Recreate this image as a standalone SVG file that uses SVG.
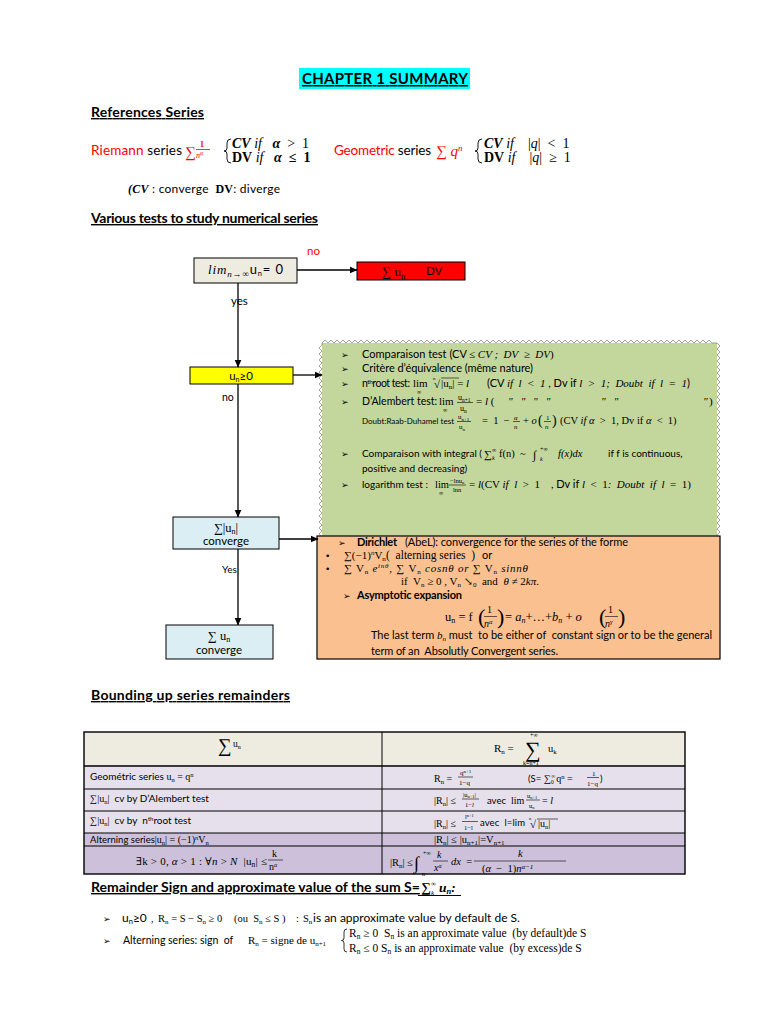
<svg xmlns="http://www.w3.org/2000/svg" width="768" height="1024" viewBox="0 0 768 1024">
<defs>
<marker id="arr" markerWidth="8" markerHeight="8" refX="7.5" refY="4" orient="auto" markerUnits="userSpaceOnUse">
<path d="M0,0.5 L8,4 L0,7.5 Z" fill="#000"/>
</marker>
<style>
text{font-family:Lato,"Liberation Sans",sans-serif;fill:#000}
.h{font-weight:bold;text-decoration:underline}
.m{font-family:"Liberation Serif","DejaVu Serif",serif}
.i{font-style:italic}
.b{font-weight:bold}
.r{fill:#ff0000}
.bul{font-family:"DejaVu Sans",sans-serif;font-size:9px}
.dot{font-family:"DejaVu Sans",sans-serif;font-size:9px}
.ln{stroke:#000;stroke-width:1.3;fill:none}
.fr{stroke:#000;stroke-width:0.6}
.cell{stroke:#000;stroke-width:1}
.node{stroke:#000;stroke-width:1}
</style>
</defs>
<rect width="768" height="1024" fill="#fff"/>

<g id="title">
<rect x="299" y="68" width="171" height="21" fill="#00ffff"/>
<text x="302" y="84" class="b" font-size="15" text-decoration="underline" textLength="166">CHAPTER 1 SUMMARY</text>
</g>

<g id="references">
<text x="91" y="117" class="h" font-size="14" textLength="113">References Series</text>
<text x="91" y="155" font-size="13.5" textLength="91"><tspan class="r">Riemann</tspan> series</text>
<text x="185" y="157" class="m r" font-size="15">∑</text>
<text x="200" y="147" class="m r b" font-size="8">1</text>
<line x1="196" y1="149.5" x2="210" y2="149.5" stroke="#ff0000" stroke-width="0.8"/>
<text x="196" y="158" class="m r i" font-size="8">n<tspan font-size="6" dy="-3">α</tspan></text>
<path d="M231,139 Q227,139 227,143 L227,148 Q227,151 224,151 Q227,151 227,154 L227,159 Q227,163 231,163" stroke="#000" stroke-width="0.9" fill="none"/>
<text x="232" y="148" class="m" font-size="14"><tspan class="b i">CV</tspan><tspan class="i"> if&#160;&#160; </tspan><tspan class="b i">α</tspan> &#160;&gt;&#160; 1</text>
<text x="232" y="162" class="m" font-size="14"><tspan class="b">DV</tspan><tspan class="i"> if&#160;&#160; </tspan><tspan class="b i">α</tspan><tspan class="b"> &#160;≤&#160; 1</tspan></text>
<text x="334" y="155" font-size="13.5" textLength="97"><tspan class="r">Geometric</tspan> series</text>
<text x="436" y="156" class="m r" font-size="15">∑ <tspan class="i">q</tspan><tspan font-size="9" dy="-5" class="i">n</tspan></text>
<path d="M482,139 Q478,139 478,143 L478,148 Q478,151 475,151 Q478,151 478,154 L478,159 Q478,163 482,163" stroke="#000" stroke-width="0.9" fill="none"/>
<text x="484" y="148" class="m" font-size="14"><tspan class="b i">CV</tspan><tspan class="i"> if</tspan>&#160;&#160;&#160; |<tspan class="i">q</tspan>| &#160;&lt;&#160; 1</text>
<text x="484" y="162" class="m" font-size="14"><tspan class="b">DV</tspan><tspan class="i"> if</tspan>&#160;&#160;&#160; |<tspan class="i">q</tspan>| &#160;≥&#160; 1</text>
<text x="128" y="193" font-size="12" textLength="152"><tspan class="m b i">(CV</tspan> : converge&#160; <tspan class="m b">DV</tspan>: diverge</text>
</g>

<text x="91" y="223" class="h" font-size="14" textLength="227">Various tests to study numerical series</text>

<g id="n-limit">
<rect x="194" y="258" width="103" height="25" fill="#eeece1" class="node"/>
<text x="208" y="274" font-size="13" textLength="75"><tspan class="m i">lim</tspan><tspan class="m i" font-size="9" dy="3">n→∞</tspan><tspan dy="-3">u</tspan><tspan font-size="7.5" dy="2">n</tspan><tspan dy="-2">= 0</tspan></text>
</g>

<g id="n-dv">
<rect x="357" y="262" width="108" height="18" fill="#ff0000" class="node"/>
<text x="382" y="276" class="m" font-size="13">∑ u<tspan font-size="9" dy="3">n</tspan></text>
<text x="426" y="275" font-size="11.5">DV</text>
</g>

<g id="n-positive">
<rect x="190" y="367" width="103" height="17" fill="#ffff00" class="node"/>
<text x="241" y="380" text-anchor="middle" font-size="11.5">u<tspan font-size="7" dy="2">n</tspan><tspan dy="-2">≥0</tspan></text>
</g>

<g id="n-abs">
<rect x="173" y="517" width="106" height="32" fill="#daeef3" class="node"/>
<text x="226" y="532" text-anchor="middle" class="m" font-size="12.5">∑|u<tspan font-size="8" dy="2">n</tspan><tspan dy="-2">|</tspan></text>
<text x="226" y="545" text-anchor="middle" font-size="11.5">converge</text>
</g>

<g id="n-conv">
<rect x="166" y="625" width="107" height="34" fill="#daeef3" class="node"/>
<text x="219" y="640" text-anchor="middle" class="m" font-size="12.5">∑ u<tspan font-size="8" dy="2">n</tspan></text>
<text x="219" y="654" text-anchor="middle" font-size="11.5">converge</text>
</g>

<g id="green-tests">
<rect x="322" y="343" width="395" height="194" fill="#c3d69b"/>
<path d="M322,343 l3-3l3 3l3-3l3 3l3-3l3 3l3-3l3 3l3-3l3 3 l3-3l3 3l3-3l3 3l3-3l3 3l3-3l3 3l3-3l3 3 l3-3l3 3l3-3l3 3l3-3l3 3l3-3l3 3l3-3l3 3 l3-3l3 3l3-3l3 3l3-3l3 3l3-3l3 3l3-3l3 3 l3-3l3 3l3-3l3 3l3-3l3 3l3-3l3 3l3-3l3 3 l3-3l3 3l3-3l3 3l3-3l3 3l3-3l3 3l3-3l3 3 l3-3l3 3l3-3l3 3l3-3l3 3l3-3l3 3l3-3l3 3 l3-3l3 3l3-3l3 3l3-3l3 3l3-3l3 3l3-3l3 3 l3-3l3 3l3-3l3 3l3-3l3 3l3-3l3 3l3-3l3 3 l3-3l3 3l3-3l3 3l3-3l3 3l3-3l3 3l3-3l3 3 l3-3l3 3l3-3l3 3l3-3l3 3l3-3l3 3l3-3l3 3 l3-3l3 3l3-3l3 3l3-3l3 3l3-3l3 3l3-3l3 3 l3-3l3 3l3-3l3 3l3-3l3 3l3-3l3 3l3-3l3 3 L717,343 l3 3l-3 3l3 3l-3 3l3 3l-3 3l3 3l-3 3l3 3l-3 3 l3 3l-3 3l3 3l-3 3l3 3l-3 3l3 3l-3 3l3 3l-3 3 l3 3l-3 3l3 3l-3 3l3 3l-3 3l3 3l-3 3l3 3l-3 3 l3 3l-3 3l3 3l-3 3l3 3l-3 3l3 3l-3 3l3 3l-3 3 l3 3l-3 3l3 3l-3 3l3 3l-3 3l3 3l-3 3l3 3l-3 3 l3 3l-3 3l3 3l-3 3l3 3l-3 3l3 3l-3 3l3 3l-3 3 l3 3l-3 3l3 3l-3 3 L717,537 M322,537 l-3-3l3-3l-3-3l3-3l-3-3l3-3l-3-3l3-3l-3-3l3-3 l-3-3l3-3l-3-3l3-3l-3-3l3-3l-3-3l3-3l-3-3l3-3 l-3-3l3-3l-3-3l3-3l-3-3l3-3l-3-3l3-3l-3-3l3-3 l-3-3l3-3l-3-3l3-3l-3-3l3-3l-3-3l3-3l-3-3l3-3 l-3-3l3-3l-3-3l3-3l-3-3l3-3l-3-3l3-3l-3-3l3-3 l-3-3l3-3l-3-3l3-3l-3-3l3-3l-3-3l3-3l-3-3l3-3 l-3-3l3-3l-3-3l3-3 L322,343" stroke="#8c8c8c" stroke-width="0.8" fill="none"/>

<text x="341" y="358" class="bul">➢</text>
<text x="362" y="358" font-size="11">Comparaison test (CV</text>
<text x="469" y="358" class="m" font-size="11">≤ <tspan class="i">CV ;&#160; DV&#160; ≥&#160; DV</tspan>)</text>
<text x="341" y="372" class="bul">➢</text>
<text x="362" y="372" font-size="11" textLength="171">Critère d’équivalence (même nature)</text>
<text x="341" y="387" class="bul">➢</text>
<text x="362" y="387" font-size="10.5" textLength="48">n<tspan font-size="6.5" dy="-3.5">th</tspan><tspan dy="3.5">root test:</tspan></text>
<text x="413" y="387" class="m" font-size="11">lim</text>
<text x="417" y="394" class="m" font-size="6">∞</text>
<text x="433" y="380" class="m" font-size="5">n</text>
<text x="434" y="388" class="m" font-size="11">√</text>
<line x1="441" y1="378" x2="459" y2="378" class="fr"/>
<text x="441" y="387" class="m" font-size="11">|u<tspan font-size="7" dy="2">n</tspan><tspan dy="-2">| = </tspan><tspan class="i">l</tspan></text>
<text x="487" y="387" font-size="11">(CV <tspan class="m i">if&#160; l &#160;&lt;&#160; 1 </tspan>, Dv if <tspan class="m i">l &#160;&gt;&#160; 1;&#160; Doubt&#160; if&#160; l &#160;=&#160; 1</tspan>)</text>

<text x="341" y="405" class="bul">➢</text>
<text x="362" y="405" font-size="10.5">D’Alembert test:</text>
<text x="439" y="405" class="m" font-size="11">lim</text>
<text x="443" y="412" class="m" font-size="6">∞</text>
<text x="458" y="400" class="m" font-size="8">u<tspan font-size="5.5" dy="1.5">n+1</tspan></text>
<line x1="457" y1="402.5" x2="473" y2="402.5" class="fr"/>
<text x="460" y="411" class="m" font-size="8">u<tspan font-size="5.5" dy="1.5">n</tspan></text>
<text x="476" y="405" class="m" font-size="11">= <tspan class="i">l</tspan> (</text>
<text x="508" y="405" class="m i" font-size="11">"&#160;&#160; "</text>
<text x="533" y="405" class="m i" font-size="11">"&#160;&#160; "</text>
<text x="601" y="405" class="m i" font-size="11">"&#160;&#160; "</text>
<text x="703" y="405" class="m i" font-size="11">"</text>
<text x="709" y="405" class="m" font-size="11">)</text>

<text x="362" y="424" font-size="8" textLength="92">Doubt:Raab-Duhamel test</text>
<text x="458" y="419" class="m" font-size="7">u<tspan font-size="5" dy="1.5">n+1</tspan></text>
<line x1="457" y1="421.5" x2="471" y2="421.5" class="fr"/>
<text x="459" y="429" class="m" font-size="7">u<tspan font-size="5" dy="1.5">n</tspan></text>
<text x="482" y="424" class="m" font-size="10.5">=&#160; 1&#160; −</text>
<text x="514" y="419.5" class="m i" font-size="7">α</text>
<line x1="513" y1="421.5" x2="520" y2="421.5" class="fr"/>
<text x="514" y="429" class="m i" font-size="7">n</text>
<text x="523" y="424" class="m" font-size="10.5">+ <tspan class="i">o</tspan></text>
<text x="538" y="425" class="m" font-size="14">(</text>
<text x="546" y="419.5" class="m" font-size="7">1</text>
<line x1="544" y1="421.5" x2="551" y2="421.5" class="fr"/>
<text x="545" y="429" class="m i" font-size="7">n</text>
<text x="552" y="425" class="m" font-size="14">)</text>
<text x="560" y="424" class="m" font-size="10.5">(CV <tspan class="i">if α</tspan> &#160;&gt;&#160; 1, Dv if <tspan class="i">α</tspan> &#160;&lt;&#160; 1)</text>

<text x="341" y="457" class="bul">➢</text>
<text x="362" y="457" font-size="10">Comparaison with integral (</text>
<text x="484" y="458" class="m" font-size="11">∑</text>
<text x="492" y="452" class="m" font-size="6">∞</text>
<text x="492" y="460" class="m i" font-size="6">k</text>
<text x="499" y="457" class="m" font-size="10.5">f(n)&#160; ~</text>
<text x="533" y="459" class="m" font-size="12">∫</text>
<text x="540" y="451" class="m" font-size="6">+∞</text>
<text x="540" y="461" class="m i" font-size="6">k</text>
<text x="558" y="457" class="m i" font-size="10.5">f(x)dx</text>
<text x="608" y="457" font-size="10">if f is continuous,</text>
<text x="362" y="472" font-size="10">positive and decreasing)</text>
<text x="341" y="488" class="bul">➢</text>
<text x="362" y="488" font-size="10">logarithm test :</text>
<text x="435" y="488" class="m" font-size="10.5">lim</text>
<text x="439" y="495" class="m" font-size="6">∞</text>
<text x="450" y="483" class="m" font-size="6.5">−lnu<tspan font-size="4.5" dy="1">n</tspan></text>
<line x1="449" y1="485" x2="466" y2="485" class="fr"/>
<text x="453" y="492" class="m" font-size="6.5">lnn</text>
<text x="469" y="488" class="m" font-size="11">= <tspan class="i">l</tspan>(CV <tspan class="i">if&#160; l</tspan> &#160;&gt;&#160; 1&#160;&#160;&#160; <tspan font-family="Lato,sans-serif">, Dv if </tspan><tspan class="i">l</tspan> &#160;&lt;&#160; 1<tspan class="i">:&#160; Doubt&#160; if&#160; l</tspan> &#160;=&#160; 1)</text>
</g>

<g id="orange-tests">
<rect x="317" y="536" width="403" height="123" fill="#fac090" stroke="#000" stroke-width="1.2"/>
<text x="338" y="546" class="bul">➢</text>
<text x="357" y="546" font-size="11" class="b" textLength="40">Dirichlet</text>
<text x="405" y="546" font-size="11" textLength="223">(AbeL): convergence for the series of the forme</text>
<text x="325" y="559" class="dot">•</text>
<text x="344" y="559" class="m" font-size="11">∑(−1)<tspan font-size="7" dy="-4" class="i">n</tspan><tspan dy="4">V</tspan><tspan font-size="7" dy="2">n</tspan></text>
<text x="386" y="559" class="m" font-size="11.5">(&#160; alterning series&#160; )</text>
<text x="482" y="559" font-size="11">or</text>
<text x="325" y="572" class="dot">•</text>
<text x="344" y="572" class="m" font-size="11" textLength="184">∑ V<tspan font-size="7" dy="2">n</tspan><tspan dy="-2" class="i"> e</tspan><tspan font-size="7" dy="-4" class="i">inθ</tspan><tspan dy="4">, ∑ V</tspan><tspan font-size="7" dy="2">n</tspan><tspan dy="-2" class="i"> cosnθ or </tspan>∑ V<tspan font-size="7" dy="2">n</tspan><tspan dy="-2" class="i"> sinnθ</tspan></text>
<text x="401" y="585" class="m" font-size="11">if&#160; V<tspan font-size="7" dy="2">n</tspan><tspan dy="-2"> ≥ 0 , V</tspan><tspan font-size="7" dy="2">n</tspan><tspan dy="-2"> ↘</tspan><tspan font-size="7" dy="2">0</tspan><tspan dy="-2">&#160; and&#160; </tspan><tspan class="i">θ</tspan> ≠ 2<tspan class="i">kπ</tspan>.</text>
<text x="343" y="599" class="bul">➢</text>
<text x="357" y="599" font-size="11" class="b" textLength="105">Asymptotic expansion</text>
<text x="445" y="621" class="m" font-size="12.5">u<tspan font-size="8" dy="2">n</tspan><tspan dy="-2"> = f</tspan></text>
<text x="478" y="624" class="m" font-size="22">(</text>
<text x="487" y="613" class="m" font-size="10">1</text>
<line x1="484" y1="616.5" x2="497" y2="616.5" class="fr"/>
<text x="484" y="627" class="m i" font-size="10">n<tspan font-size="6.5" dy="-3">α</tspan></text>
<text x="497" y="624" class="m" font-size="22">)</text>
<text x="505" y="621" class="m" font-size="12.5">= <tspan class="i">a</tspan><tspan font-size="8" dy="2" class="i">n</tspan><tspan dy="-2">+…+</tspan><tspan class="i">b</tspan><tspan font-size="8" dy="2" class="i">n</tspan><tspan dy="-2"> + </tspan><tspan class="i">o</tspan></text>
<text x="599" y="624" class="m" font-size="22">(</text>
<text x="608" y="613" class="m" font-size="10">1</text>
<line x1="605" y1="616.5" x2="618" y2="616.5" class="fr"/>
<text x="605" y="627" class="m i" font-size="10">n<tspan font-size="6.5" dy="-3">γ</tspan></text>
<text x="618" y="624" class="m" font-size="22">)</text>
<text x="371" y="639" font-size="11" textLength="341">The last term <tspan class="m i">b</tspan><tspan class="m i" font-size="7" dy="2">n</tspan><tspan dy="-2"> must&#160; to be either of&#160; constant sign or to be the general</tspan></text>
<text x="371" y="655" font-size="11" textLength="187">term of an&#160; Absolutly Convergent series.</text>
</g>

<g id="connectors">
<line x1="297" y1="270" x2="357" y2="270" class="ln" marker-end="url(#arr)"/>
<text x="307" y="255" font-size="11.5" class="r">no</text>
<line x1="238" y1="283" x2="238" y2="367" class="ln" marker-end="url(#arr)"/>
<text x="231" y="305" font-size="11.5">yes</text>
<line x1="293" y1="375" x2="322" y2="375" class="ln" marker-end="url(#arr)"/>
<line x1="238" y1="384" x2="238" y2="517" class="ln" marker-end="url(#arr)"/>
<text x="222" y="401" font-size="10.5">no</text>
<line x1="279" y1="539" x2="318" y2="539" class="ln" marker-end="url(#arr)"/>
<line x1="238" y1="549" x2="238" y2="625" class="ln" marker-end="url(#arr)"/>
<text x="222" y="573" font-size="10">Yes</text>
</g>

<text x="91" y="700" class="h" font-size="14" textLength="199">Bounding up series remainders</text>

<g id="table">
<rect x="84" y="732" width="601" height="34" fill="#eeece1"/>
<rect x="84" y="766" width="601" height="67" fill="#e5e0ec"/>
<rect x="84" y="833" width="601" height="41" fill="#ccc0da"/>
<g class="cell">
<rect x="84" y="732" width="601" height="142" fill="none" stroke-width="1.4"/>
<line x1="382" y1="732" x2="382" y2="874"/>
<line x1="84" y1="766" x2="685" y2="766" stroke-width="1.4"/>
<line x1="84" y1="789" x2="685" y2="789"/>
<line x1="84" y1="811" x2="685" y2="811"/>
<line x1="84" y1="833" x2="685" y2="833"/>
<line x1="84" y1="846" x2="685" y2="846"/>
</g>
<text x="218" y="752" class="m" font-size="19">∑</text>
<text x="233" y="747" class="m" font-size="9.5">u<tspan font-size="6" dy="1.5">n</tspan></text>
<text x="494" y="752" class="m" font-size="11">R<tspan font-size="7" dy="2">n</tspan><tspan dy="-2"> =</tspan></text>
<text x="525" y="757" class="m" font-size="22">∑</text>
<text x="530" y="737" class="m" font-size="6">+∞</text>
<text x="523" y="765" class="m" font-size="6">k=n+1</text>
<text x="548" y="752" class="m" font-size="10.5">u<tspan font-size="7" dy="2">k</tspan></text>

<text x="90" y="780" font-size="10">Geométric series <tspan class="m">u</tspan><tspan class="m" font-size="6.5" dy="1.5">n</tspan><tspan class="m" dy="-1.5"> = q</tspan><tspan class="m" font-size="6.5" dy="-3.5">n</tspan></text>
<text x="434" y="782" class="m" font-size="10">R<tspan font-size="6.5" dy="1.5">n</tspan><tspan dy="-1.5"> =</tspan></text>
<text x="460" y="775" class="m" font-size="7">q<tspan font-size="5" dy="-2.5">n+1</tspan></text>
<line x1="458" y1="777" x2="473" y2="777" class="fr"/>
<text x="459" y="785" class="m" font-size="7">1−q</text>
<text x="528" y="782" font-size="9.5">(S=</text>
<text x="544" y="782" class="m" font-size="10">∑<tspan font-size="5.5" dy="-4">∞</tspan><tspan font-size="5.5" dx="-4" dy="6">0</tspan><tspan dy="-2"> q</tspan><tspan font-size="6.5" dy="-3.5">n</tspan><tspan dy="3.5"> =</tspan></text>
<text x="592" y="776" class="m" font-size="7">1</text>
<line x1="587" y1="777.5" x2="599" y2="777.5" class="fr"/>
<text x="587" y="786" class="m" font-size="7">1−q</text>
<text x="600" y="782" font-size="9.5">)</text>

<text x="90" y="802" font-size="10"><tspan class="m">∑|u</tspan><tspan class="m" font-size="6.5" dy="1.5">n</tspan><tspan class="m" dy="-1.5">|</tspan>&#160; cv by D’Alembert test</text>
<text x="434" y="804" class="m" font-size="10">|R<tspan font-size="6.5" dy="1.5">n</tspan><tspan dy="-1.5">| ≤</tspan></text>
<text x="463" y="797" class="m" font-size="6.5">|u<tspan font-size="4.5" dy="1">n+1</tspan><tspan dy="-1">|</tspan></text>
<line x1="462" y1="799" x2="479" y2="799" class="fr"/>
<text x="465" y="807" class="m" font-size="6.5">1−<tspan class="i">l</tspan></text>
<text x="487" y="804" font-size="9.5">avec</text>
<text x="511" y="804" class="m" font-size="10">lim</text>
<text x="527" y="798" class="m" font-size="6.5">u<tspan font-size="4.5" dy="1">n+1</tspan></text>
<line x1="526" y1="800" x2="540" y2="800" class="fr"/>
<text x="529" y="808" class="m" font-size="6.5">u<tspan font-size="4.5" dy="1">n</tspan></text>
<text x="542" y="804" class="m" font-size="10">= <tspan class="i">l</tspan></text>

<text x="90" y="824" font-size="10"><tspan class="m">∑|u</tspan><tspan class="m" font-size="6.5" dy="1.5">n</tspan><tspan class="m" dy="-1.5">|</tspan>&#160; cv by&#160; n<tspan font-size="6" dy="-3">th</tspan><tspan dy="3">root test</tspan></text>
<text x="434" y="827" class="m" font-size="10">|R<tspan font-size="6.5" dy="1.5">n</tspan><tspan dy="-1.5">| ≤</tspan></text>
<text x="465" y="819" class="m" font-size="6.5">l<tspan font-size="4.5" dy="-2">n+1</tspan></text>
<line x1="462" y1="821.5" x2="478" y2="821.5" class="fr"/>
<text x="464" y="830" class="m" font-size="6.5">1−l</text>
<text x="480" y="826" font-size="9.5" textLength="45">avec&#160; l=lim</text>
<text x="529" y="820" class="m" font-size="4.5">n</text>
<text x="530" y="828" class="m" font-size="11">√</text>
<line x1="537" y1="819" x2="558" y2="819" class="fr"/>
<text x="538" y="827" class="m" font-size="10">|u<tspan font-size="6.5" dy="1.5">n</tspan><tspan dy="-1.5">|</tspan></text>

<text x="90" y="843" font-size="9.5">Alterning series<tspan class="m" font-size="10">|u</tspan><tspan class="m" font-size="6.5" dy="1.5">n</tspan><tspan class="m" font-size="10" dy="-1.5">| = (−1)</tspan><tspan class="m i" font-size="6.5" dy="-3.5">n</tspan><tspan class="m" font-size="10" dy="3.5">V</tspan><tspan class="m" font-size="6.5" dy="1.5">n</tspan></text>
<text x="434" y="843" class="m" font-size="10.5">|R<tspan font-size="7" dy="1.5">n</tspan><tspan dy="-1.5">| ≤ |u</tspan><tspan font-size="7" dy="1.5">n+1</tspan><tspan dy="-1.5">|=V</tspan><tspan font-size="7" dy="1.5">n+1</tspan></text>

<text x="136" y="865" class="m" font-size="11" textLength="131">∃k &gt; 0, <tspan class="i">α</tspan> &gt; 1 : ∀<tspan class="i">n</tspan> &gt; <tspan class="i">N</tspan>&#160; |u<tspan font-size="7.5" dy="1.5">n</tspan><tspan dy="-1.5">| ≤</tspan></text>
<text x="272" y="857" class="m" font-size="10">k</text>
<line x1="268" y1="860" x2="283" y2="860" class="fr"/>
<text x="269" y="870" class="m" font-size="10">n<tspan font-size="6" dy="-3" class="i">α</tspan></text>
<text x="390" y="866" class="m" font-size="10.5">|R<tspan font-size="7" dy="1.5">n</tspan><tspan dy="-1.5">| ≤</tspan></text>
<text x="414" y="869" class="m" font-size="18">∫</text>
<text x="423" y="855" class="m" font-size="6">+∞</text>
<text x="422" y="876" class="m" font-size="6">n</text>
<text x="437" y="858" class="m i" font-size="10">k</text>
<line x1="433" y1="861" x2="448" y2="861" class="fr"/>
<text x="434" y="871" class="m i" font-size="10">x<tspan font-size="6" dy="-3">α</tspan></text>
<text x="451" y="865" class="m" font-size="10.5"><tspan class="i">dx</tspan>&#160; =</text>
<text x="518" y="857" class="m i" font-size="10.5">k</text>
<line x1="474" y1="861" x2="566" y2="861" class="fr"/>
<text x="482" y="872" class="m" font-size="10.5">(<tspan class="i">α</tspan> &#160;− &#160;1)<tspan class="i">n</tspan><tspan font-size="7" dy="-3.5" class="i">α−1</tspan></text>
</g>

<g id="remainder-sign">
<text x="91" y="892" class="h" font-size="14">Remainder Sign and approximate value of the sum S=</text>
<text x="421" y="892" class="m b i" font-size="13.5">∑</text>
<text x="431" y="886" class="m i" font-size="7">∞</text>
<text x="431" y="895" class="m i" font-size="7">k</text>
<text x="439" y="892" class="m b i" font-size="13.5">u<tspan font-size="8.5" dy="2">n</tspan><tspan dy="-2">:</tspan></text>
<line x1="418" y1="895.5" x2="461" y2="895.5" stroke="#000" stroke-width="1"/>
<text x="103" y="922" class="bul">➢</text>
<text x="122" y="922" font-size="12">u<tspan font-size="7.5" dy="2">n</tspan><tspan dy="-2">≥0</tspan></text>
<text x="151" y="922" class="m" font-size="10">,</text>
<text x="158" y="922" class="m" font-size="10.5">R<tspan font-size="7" dy="1.5">n</tspan><tspan dy="-1.5"> = S − S</tspan><tspan font-size="7" dy="1.5">n</tspan><tspan dy="-1.5"> ≥ 0</tspan></text>
<text x="234" y="922" class="m" font-size="10.5">(ou&#160; S<tspan font-size="7" dy="1.5">n</tspan><tspan dy="-1.5"> ≤ S )</tspan></text>
<text x="296" y="922" class="m" font-size="10.5">:</text>
<text x="303" y="922" class="m" font-size="10.5">S<tspan font-size="7" dy="1.5">n</tspan></text>
<text x="313" y="922" font-size="12">is an approximate value by default de S.</text>
<text x="103" y="944" class="bul">➢</text>
<text x="123" y="944" font-size="10.5">Alterning series: sign&#160; of</text>
<text x="248" y="944" class="m" font-size="11">R<tspan font-size="7" dy="1.5">n</tspan><tspan dy="-1.5"> = signe de u</tspan><tspan font-size="7" dy="1.5">n+1</tspan></text>
<path d="M347,929 Q344,929 344,932 L344,938 Q344,940.5 341.5,940.5 Q344,940.5 344,943 L344,949 Q344,952 347,952" stroke="#000" stroke-width="0.8" fill="none"/>
<text x="349" y="937" class="m" font-size="11.5">R<tspan font-size="7.5" dy="1.5">n</tspan><tspan dy="-1.5"> ≥ 0&#160; S</tspan><tspan font-size="7.5" dy="1.5">n</tspan><tspan dy="-1.5"> is an approximate value&#160; (by default)de S</tspan></text>
<text x="349" y="952" class="m" font-size="11.5">R<tspan font-size="7.5" dy="1.5">n</tspan><tspan dy="-1.5"> ≤ 0 S</tspan><tspan font-size="7.5" dy="1.5">n</tspan><tspan dy="-1.5"> is an approximate value&#160; (by excess)de S</tspan></text>
</g>
</svg>
